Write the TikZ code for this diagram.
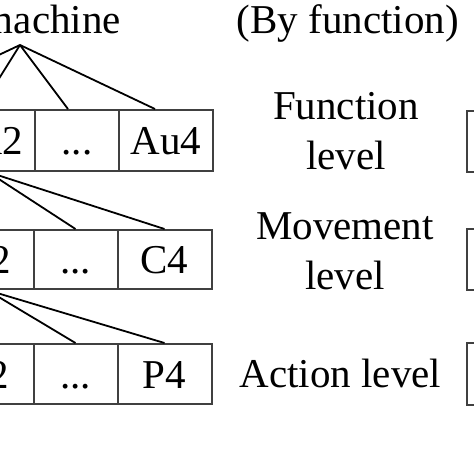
\documentclass[tikz,border=0pt]{standalone}
\usepackage{fontspec}
\setmainfont{Liberation Serif}
\usetikzlibrary{calc}
\newcommand{\lvlFont}{\fontsize{41}{50}\selectfont}

\begin{document}
\begin{tikzpicture}[x=1pt,y=-1pt,font=\lvlFont,
  cell/.style={draw=black!75, line width=2pt, minimum width=94pt, minimum height=61pt,
    inner sep=0pt, text height=28pt, text depth=0pt},
  dots/.style={cell, minimum width=84pt},
  branch/.style={line width=1.8pt},
  lvl/.style={align=center, inner sep=0pt}]
\useasboundingbox (0,0) rectangle (474,474);
\clip (0,0) rectangle (474,474);
% top
\node[anchor=base east, inner sep=0pt] (mach) at (121,33) {machine};
\coordinate (root) at (20,45);
\node[anchor=base, inner sep=0pt] (byfn) at (348,33) {(By function)};
% function level
\node[cell] (au1) at (-106,140.5) {Au1};
\node[cell] (au2) at (-12,140.5) {Au2};
\node[dots] (au3) at (77,140.5) {...};
\node[cell] (au4) at (166,140.5) {Au4};
% movement level
\node[cell, minimum height=59pt] (c1) at (-107,259.5) {C1};
\node[cell, minimum height=59pt] (c2) at (-13,259.5) {C2};
\node[dots, minimum height=59pt] (c3) at (75.5,259.5) {...};
\node[cell, minimum height=59pt] (c4) at (164.5,259.5) {C4};
% action level
\node[cell, minimum height=60pt] (p1) at (-107,374) {P1};
\node[cell, minimum height=60pt] (p2) at (-13,374) {P2};
\node[dots, minimum height=60pt] (p3) at (75.5,374) {...};
\node[cell, minimum height=60pt] (p4) at (164.5,374) {P4};
% branches
\draw[branch] (root) -- ($(au1.north)+(-10,0)$);
\draw[branch] (root) -- ($(au2.north)+(-8,0)$);
\draw[branch] (root) -- ($(au3.north)+(-9,0)$);
\draw[branch] (root) -- ($(au4.north)+(-11,0)$);
\draw[branch] (au2.south) -- (c3.north);
\draw[branch] (au2.south) -- (c4.north);
\draw[branch] (c2.south) -- (p3.north);
\draw[branch] (c2.south) -- (p4.north);
% level names
\node[lvl] (fnlvl) at (346,131) {Function\\level};
\node[lvl] (mvlvl) at (345,251) {Movement\\level};
\node[anchor=base, inner sep=0pt] (aclvl) at (340.5,387) {Action level};
\node[cell, anchor=west] (fnbox) at (466,141) {};
\node[cell, anchor=west, minimum height=61pt] (mvbox) at (466,259.5) {};
\node[cell, anchor=west, minimum height=62pt] (acbox) at (466,374) {};
\end{tikzpicture}
\end{document}
